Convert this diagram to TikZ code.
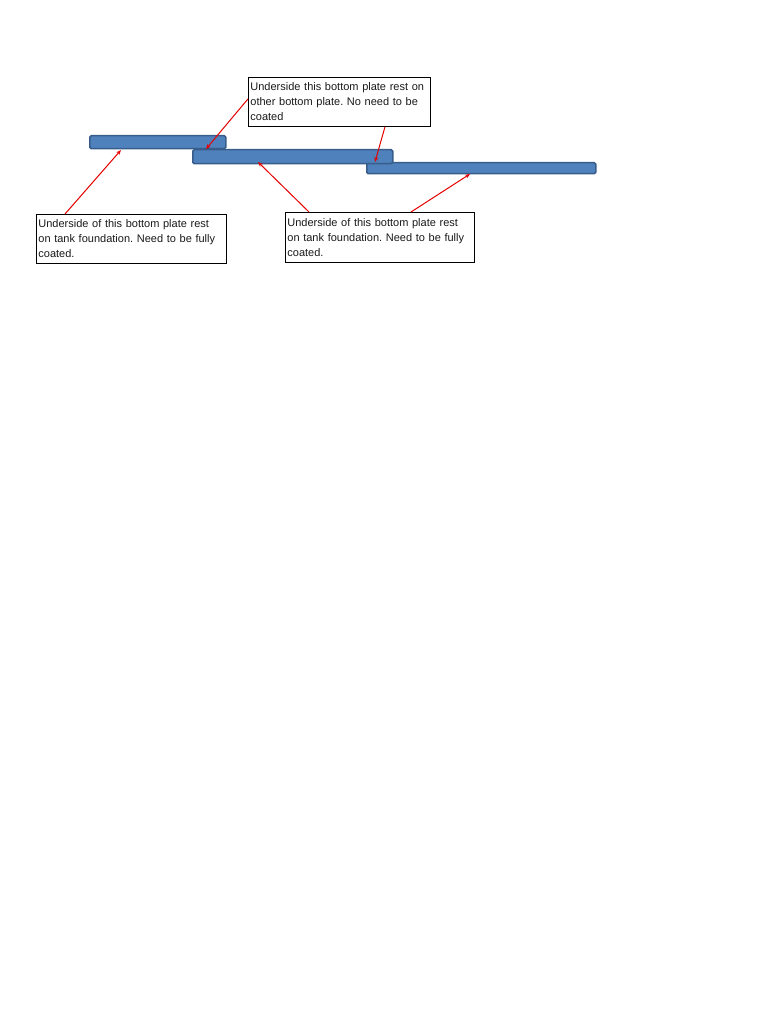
\documentclass[tikz,border=0pt]{standalone}
\usepackage{fontspec}
\setmainfont{Liberation Sans}
\usetikzlibrary{positioning,calc,arrows.meta}

\definecolor{platefill}{HTML}{4F81BD}
\definecolor{plateline}{HTML}{385D8A}

\tikzset{
	plate/.style={draw=plateline, fill=platefill, line width=1.5pt, rounded corners=1.5pt, anchor=north west, inner sep=0pt},
	note/.style={draw, line width=0.8pt, anchor=north west, align=left, inner xsep=2pt, font=\fontsize{11}{15}\selectfont, text=black!90},
	pointer/.style={red!90!black, line width=1pt, -{Stealth[length=5pt,width=4pt]}}
}

\begin{document}
\frenchspacing
\begin{tikzpicture}[x=1pt,y=-1pt]
		\useasboundingbox (0,0) rectangle (768,1024);
		
		% bottom plates
		\node[plate, minimum width=136pt, minimum height=13pt] (plateA) at (89,135) {};
		\node[plate, minimum width=229pt, minimum height=11pt] (plateC) at (366,162) {};
		\node[plate, minimum width=200pt, minimum height=14pt] (plateB) at (192,149) {};
		
		% arrow tips on the plates
		\coordinate (tipA) at (121,150);
		\coordinate (tipB1) at (206,149);
		\coordinate (tipB2) at (258,162);
		\coordinate (tipC1) at (375,162);
		\coordinate (tipC2) at (470,174);
		
		% notes
		\node[note, text width=178pt, minimum width=182pt, minimum height=49pt] (topnote) at (248,77) {Underside this bottom plate rest on\\other bottom plate. No need to be\\coated};
		\node[note, text width=186pt, minimum width=190pt, minimum height=49pt] (leftnote) at (36,214) {Underside of this bottom plate rest\\on tank foundation. Need to be fully\\coated.};
		\node[note, text width=185pt, minimum width=189pt, minimum height=50pt] (rightnote) at (285,212) {Underside of this bottom plate rest\\on tank foundation. Need to be fully\\coated.};
		
		\draw[pointer] ([yshift=3pt]topnote.west) -- (tipB1);
		\draw[pointer] ([xshift=137pt]topnote.south west) -- (tipC1);
		\draw[pointer] ([xshift=29pt]leftnote.north west) -- (tipA);
		\draw[pointer] ([xshift=24pt]rightnote.north west) -- (tipB2);
		\draw[pointer] ([xshift=126pt]rightnote.north west) -- (tipC2);
	\end{tikzpicture}
\end{document}
